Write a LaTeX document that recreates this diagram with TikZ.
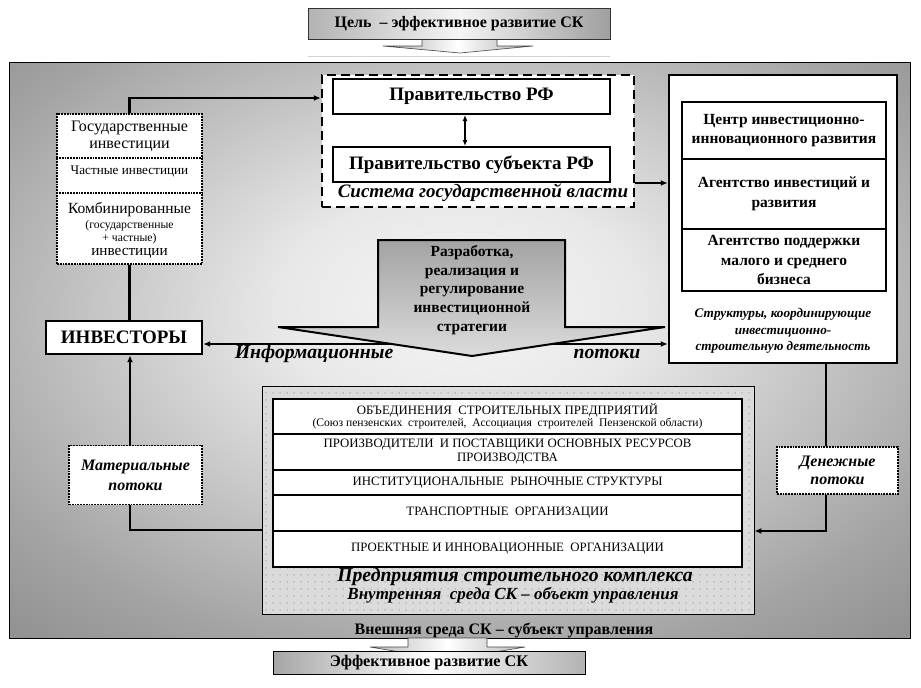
\documentclass[tikz,border=0pt]{standalone}
\usepackage{fontspec}
\setmainfont{Liberation Serif}
\usetikzlibrary{arrows.meta,calc,patterns.meta}
\pgfdeclareradialshading{mainbg}{\pgfpoint{0bp}{4bp}}{color(0bp)=(black!4); color(10bp)=(black!9); color(30bp)=(black!36); color(50bp)=(black!56); color(100bp)=(black!58)}
\newcommand\myfs[2]{\fontsize{#1}{#2}\selectfont}
\tikzset{
  box/.style={draw, line width=2pt, fill=white, inner sep=1pt, align=center},
  conn/.style={line width=2.2pt},
  arr/.style={conn, -{Latex[length=7pt,width=6pt]}},
  darr/.style={conn, {Latex[length=7pt,width=6pt]}-{Latex[length=7pt,width=6pt]}},
  dotbox/.style={draw, densely dotted, line width=1.8pt, fill=white, align=center, inner sep=1pt},
  tblrow/.style={draw, line width=2.2pt, fill=white, minimum width=469pt, align=center, inner sep=0pt, font=\myfs{12.8}{14}},
  rrow/.style={box, minimum width=204pt, font=\myfs{15.5}{19.5}\bfseries},
}
\begin{document}
\begin{tikzpicture}[x=1pt,y=-1pt]
\useasboundingbox (0,0) rectangle (921,688);
% main background
\shadedraw[shading=mainbg, line width=1pt] (9,62) rectangle (910,638);
% top goal
\draw[gray!55!black, line width=0.6pt, left color=gray!65, right color=gray!65, middle color=white]
  (422,38) -- (497,38) -- (497,46) -- (533,46) -- (460,53) -- (383,46) -- (422,46) -- cycle;
\node[draw=gray!40!black, line width=0.8pt, left color=gray!60, right color=gray!75, middle color=gray!8,
  minimum width=302pt, minimum height=31pt, font=\myfs{16}{18}\bfseries] (goal) at (459,23.5) {Цель \ – эффективное развитие СК};
\draw[gray!35, line width=0.8pt] ($(goal.south west)+(0,17)$) -- ($(goal.south east)+(0,17)$);
% government
\node[draw, dash pattern=on 9pt off 5pt, line width=2.4pt, fill=white, minimum width=312pt, minimum height=132pt] (gov) at (478,141) {};
\node[box, minimum width=277pt, minimum height=35pt, font=\myfs{19}{21}\bfseries] (prf) at (471.5,96.5) {Правительство РФ};
\node[box, minimum width=277pt, minimum height=35pt, font=\myfs{19}{21}\bfseries] (psub) at (471.5,164.5) {Правительство субъекта РФ};
\node[font=\myfs{19}{21}\bfseries\itshape] (sys) at (483,193) {Система государственной власти};
% right structures
\node[draw, line width=2.5pt, fill=white, minimum width=228pt, minimum height=288pt] (rb) at (783,219) {};
\node[rrow, minimum height=57pt] (r1) at (784,130.5) {Центр инвестиционно-\\инновационного развития};
\node[rrow, minimum height=70pt] (r2) at (784,194) {Агентство инвестиций и\\развития};
\node[rrow, minimum height=62pt] (r3) at (784,260) {Агентство поддержки\\малого и среднего\\бизнеса};
\node[font=\myfs{13.2}{16.5}\bfseries\itshape, align=center] (str) at (783,331) {Структуры, координирующие\\инвестиционно-\\строительную деятельность};
% investments
\node[dotbox, minimum width=145pt, minimum height=150pt] (inv) at (129.5,189) {};
\draw[densely dotted, line width=1.8pt] ($(inv.north west)+(0,45)$) -- ($(inv.north east)+(0,45)$);
\draw[densely dotted, line width=1.8pt] ($(inv.north west)+(0,80)$) -- ($(inv.north east)+(0,80)$);
\node[font=\myfs{16}{17}, align=center] (gi) at (129.5,136) {Государственные\\инвестиции};
\node[font=\myfs{13.2}{14}] (ci) at (129.5,171) {Частные инвестиции};
\node[font=\myfs{15.5}{16}] (ki) at (129.5,210) {Комбинированные};
\node[font=\myfs{11.7}{13}, align=center] (kp) at (129.5,232) {(государственные\\+ частные)};
\node[font=\myfs{15.2}{16}] (ki2) at (129.5,253) {инвестиции};
\node[box, line width=2.4pt, minimum width=156pt, minimum height=33pt, font=\myfs{19}{22}\bfseries] (investors) at (124,337.5) {ИНВЕСТОРЫ};
\node[dotbox, minimum width=133pt, minimum height=59pt, font=\myfs{16}{20}\bfseries\itshape] (mat) at (135.5,475) {Материальные\\потоки};
\node[dotbox, minimum width=121pt, minimum height=47pt, font=\myfs{16}{18}\bfseries\itshape] (money) at (837.5,470.5) {Денежные\\потоки};
% enterprises
\node[draw, line width=0.9pt, fill=gray!28, postaction={pattern={Dots[distance=6.5pt,radius=0.55pt]}, pattern color=black!60},
  minimum width=492pt, minimum height=228pt] (ent) at (508,500) {};
\node[tblrow, minimum height=35pt] (row1) at (507.5,416.5) {ОБЪЕДИНЕНИЯ \ СТРОИТЕЛЬНЫХ ПРЕДПРИЯТИЙ\\[-2pt]{\myfs{11.6}{12}(Союз пензенских \ строителей, \ Ассоциация \ строителей \ Пензенской области)}};
\node[tblrow, minimum height=36pt] (row2) at (507.5,452) {ПРОИЗВОДИТЕЛИ \ И ПОСТАВЩИКИ ОСНОВНЫХ РЕСУРСОВ\\ПРОИЗВОДСТВА};
\node[tblrow, minimum height=25pt] (row3) at (507.5,482.5) {ИНСТИТУЦИОНАЛЬНЫЕ \ РЫНОЧНЫЕ СТРУКТУРЫ};
\node[tblrow, minimum height=36pt] (row4) at (507.5,513) {ТРАНСПОРТНЫЕ \ ОРГАНИЗАЦИИ};
\node[tblrow, minimum height=36pt] (row5) at (507.5,549) {ПРОЕКТНЫЕ И ИННОВАЦИОННЫЕ \ ОРГАНИЗАЦИИ};
\node[font=\myfs{19.7}{22}\bfseries\itshape] (pred) at (515,577) {Предприятия строительного комплекса};
\node[font=\myfs{17}{18}\bfseries\itshape] (vnut) at (513,595) {Внутренняя \ среда СК – объект управления};
\node[font=\myfs{16}{17}\bfseries] (vnesh) at (504,630) {Внешняя среда СК – субъект управления};
% connectors
\draw[arr] (inv.north) |- ($(gov.west)+(0,-43)$);
\draw[conn] (inv.south) -- (inv.south |- investors.north);
\coordinate (gx) at ($(prf.south)+(-6.5,0)$);
\draw[conn, line width=1.6pt, {Latex[length=6pt,width=5pt]}-{Latex[length=6pt,width=5pt]}] (gx) -- (gx |- psub.north);
\coordinate (govr) at ($(gov.east)+(0,42)$);
\draw[arr] (govr) -- (govr -| rb.west);
\coordinate (infl) at ($(investors.east)+(0,6.5)$);
\draw[darr] (infl) -- (infl -| rb.west);
\coordinate (mtop) at ($(rb.south)+(43,0)$);
\draw[conn] (mtop) -- (mtop |- money.north);
\draw[arr] (mtop |- money.south) |- ($(ent.east)+(0,31)$);
\coordinate (matx) at ($(investors.south)+(6,0)$);
\draw[arr] (matx |- mat.north) -- (matx);
\draw[conn] (matx |- mat.south) |- ($(ent.west)+(0,30)$);
% big strategy arrow
\draw[line width=2pt, top color=black!36, bottom color=black!14]
  (378,240) -- (565,240) -- (565,327) -- (665,327) -- (472,356) -- (278,327) -- (378,327) -- cycle;
\node[font=\myfs{15.5}{18.75}\bfseries, align=center] (strat) at (472,290) {Разработка,\\реализация и\\регулирование\\инвестиционной\\стратегии};
\node[font=\myfs{19.7}{22}\bfseries\itshape] (inf1) at (314,354) {Информационные};
\node[font=\myfs{19.7}{22}\bfseries\itshape] (inf2) at (607,354) {потоки};
% bottom result
\draw[gray!55!black, line width=0.6pt, left color=gray!55, right color=gray!55, middle color=white]
  (408,638) -- (487,638) -- (487,647) -- (525,647) -- (447.5,660) -- (370,647) -- (408,647) -- cycle;
\node[draw, line width=0.9pt, left color=gray!70, right color=gray!60, middle color=white,
  minimum width=312pt, minimum height=23pt, font=\myfs{16.2}{18}\bfseries] (eff) at (429,662.5) {Эффективное развитие СК};
\end{tikzpicture}
\end{document}
